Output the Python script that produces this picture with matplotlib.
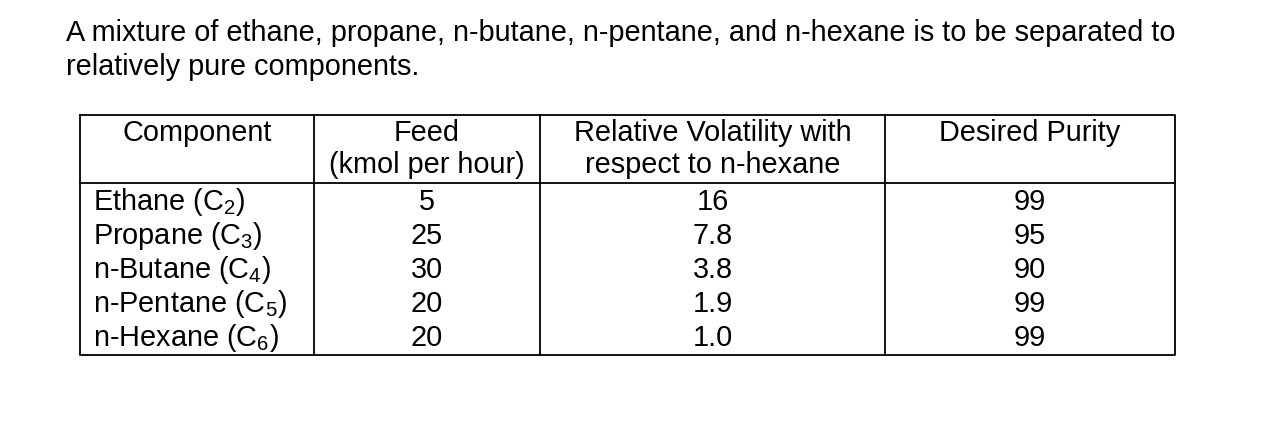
import matplotlib.pyplot as plt

plt.rcParams['font.family'] = ['Liberation Sans', 'DejaVu Sans']
plt.rcParams['mathtext.fontset'] = 'custom'
plt.rcParams['mathtext.rm'] = 'Liberation Sans'

intro = ["A mixture of ethane, propane, n-butane, n-pentane, and n-hexane is to be separated to",
         "relatively pure components."]
headers = [["Component"], ["Feed", "(kmol per hour)"],
           ["Relative Volatility with", "respect to n-hexane"], ["Desired Purity"]]
names = ["Ethane", "Propane", "n-Butane", "n-Pentane", "n-Hexane"]
carbons = [2, 3, 4, 5, 6]
feed = ["5", "25", "30", "20", "20"]
volatility = ["16", "7.8", "3.8", "1.9", "1.0"]
purity = ["99", "95", "90", "99", "99"]

fig = plt.figure(figsize=(12.74, 4.29), dpi=100)
ax = fig.add_axes([0, 0, 1, 1])
ax.set_xlim(0, 1274)
ax.set_ylim(429, 0)
ax.axis('off')

fs = 20.8
for i, line in enumerate(intro):
    ax.text(66, 33 + 34 * i, line, fontsize=fs, va='center', ha='left')

# table grid
xs = [80, 314, 540, 885, 1175]
top, hdr, bot = 115, 183, 355
lw = 1.3
ax.plot([xs[0], xs[-1], xs[-1], xs[0], xs[0]], [top, top, bot, bot, top], color='black', lw=lw)
ax.plot([xs[0], xs[-1]], [hdr, hdr], color='black', lw=lw)
for x in xs[1:-1]:
    ax.plot([x, x], [top, bot], color='black', lw=lw)

for j, h in enumerate(headers):
    cx = (xs[j] + xs[j + 1]) / 2
    for k, line in enumerate(h):
        ax.text(cx, 133 + 32 * k, line, fontsize=fs, ha='center', va='center')

for i in range(len(names)):
    y = 202 + 34 * i
    ax.text(93, y, names[i] + r" (C$\mathregular{_{%d}}$)" % carbons[i],
            fontsize=fs, ha='left', va='center')
    for j, col in enumerate([feed, volatility, purity]):
        cx = (xs[j + 1] + xs[j + 2]) / 2
        ax.text(cx, y, col[i], fontsize=fs, ha='center', va='center')

fig.savefig("out.png", dpi=100)
